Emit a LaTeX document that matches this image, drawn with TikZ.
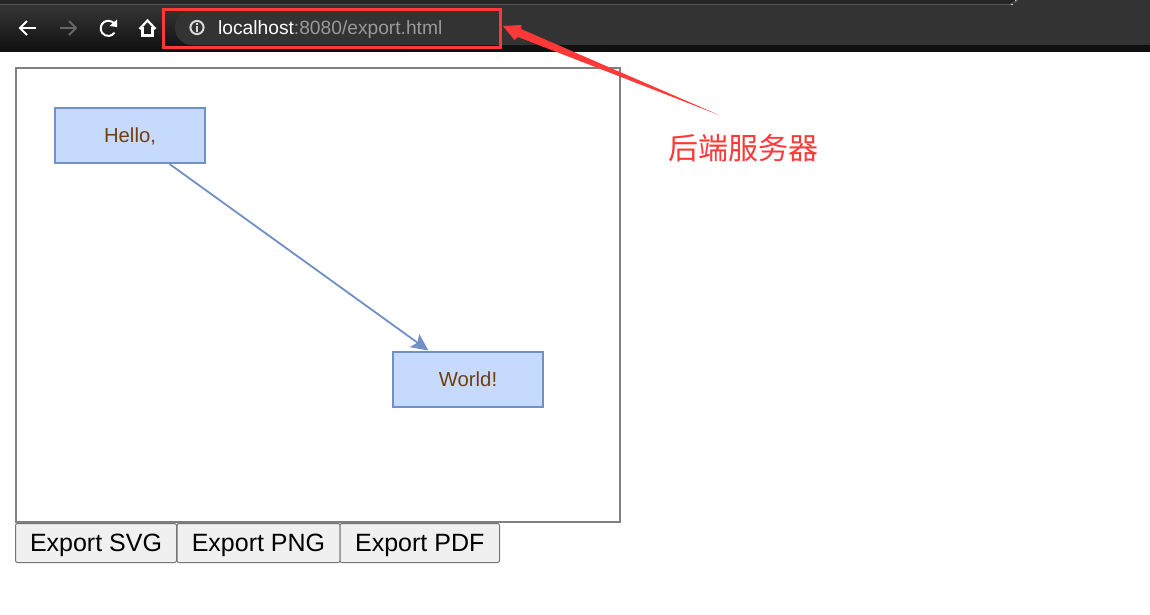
\documentclass[tikz,border=0pt]{standalone}
\usepackage{fontspec}
\setmainfont{Liberation Sans}
\newfontfamily\cjkfont{Noto Sans CJK SC}
\usetikzlibrary{arrows.meta,positioning}
\definecolor{barDark}{HTML}{333333}
\definecolor{barEdge}{HTML}{111111}
\definecolor{markRed}{HTML}{FF3838}
\definecolor{shapeFill}{HTML}{C6DAFE}
\definecolor{shapeLine}{HTML}{7090C6}
\definecolor{shapeText}{HTML}{703F0D}
\tikzset{
  shapebox/.style={draw=shapeLine,fill=shapeFill,line width=2pt,minimum width=149.500pt,minimum height=55.500pt,inner sep=0pt,text=shapeText,text height=15pt,text depth=0pt,font=\fontsize{20.3}{24}\selectfont},
  exportbtn/.style={draw=black!54,fill=black!6,line width=1pt,rounded corners=2pt,minimum height=39pt,inner sep=0pt,text height=18pt,text depth=1pt,font=\fontsize{25}{30}\selectfont,anchor=north west},
  toolicon/.style={line width=2pt,white}
}
\begin{document}
\begin{tikzpicture}[x=1pt,y=-1pt]
\useasboundingbox[fill=white] (0,0) rectangle (1150,614);

% Browser bar
\fill[barDark] (0,5) rectangle (1150,45);
\fill[barEdge] (0,45) rectangle (1150,51.500);
\fill[black!85] (0,0) rectangle (1015,4);
\fill[black!80] (1018,0) -- (1150,0) -- (1150,9) -- (1008,9) -- cycle;
\draw[black!68,line width=1pt] (0,4.500) -- (1010,4.500) -- (1018,0);
\shade[top color=black!80,bottom color=black!94] (0,9) rectangle (400,51.500);
\fill[barDark,rounded corners=17pt] (175,10) rectangle (560,45);
\fill[barDark] (400,9) rectangle (1150,45);

% Toolbar icons
\draw[toolicon] (36,28) -- (21,28);
\draw[toolicon] (27,21) -- (20,28) -- (27,35);
\draw[toolicon,black!60] (60,28) -- (75,28);
\draw[toolicon,black!60] (69,21) -- (76,28) -- (69,35);
\draw[toolicon] (114.500,24) arc[start angle=35,end angle=325,radius=7.6pt];
\fill[white] (117,19.500) -- (117,27) -- (109.500,26) -- cycle;
\draw[white,line width=2.2pt,line join=miter] (139.500,29) -- (147.500,20.500) -- (155.500,29);
\draw[white,line width=2.2pt] (142.500,27) -- (142.500,35.500) -- (152.500,35.500) -- (152.500,27);

% Address
\draw[white!85!black,line width=2pt] (197,27.500) circle[radius=6.6pt];
\fill[white!85!black] (195.800,26) rectangle (198.200,32);
\fill[white!85!black] (195.800,22.800) rectangle (198.200,25);
\node[anchor=west,inner sep=0pt,font=\fontsize{19.2}{22}\selectfont] (address) at (218,29.500)
  {\textcolor{white}{localhost}\textcolor{black!40}{:8080/export.html}};
\node[draw=markRed,line width=3pt,minimum width=337pt,minimum height=38pt,inner sep=0pt] (addressmark) at (332,28) {};

% Canvas
\node[draw=black!50,line width=2pt,minimum width=604pt,minimum height=454pt,inner sep=0pt] (canvas) at (318,295) {};
\node[shapebox] (hello) at (130,135.300) {Hello,};
\node[shapebox] (world) at (468,379.300) {World!};
\draw[-{Stealth[length=17pt,width=16pt,inset=3.500pt]},shapeLine,line width=1.8pt] (hello.-36) -- (world.144);

% Buttons
\node[exportbtn,minimum width=161pt] (svgbtn) at (15,523) {Export SVG};
\node[exportbtn,minimum width=163pt] (pngbtn) at (176.500,523) {Export PNG};
\node[exportbtn,minimum width=159.500pt] (pdfbtn) at (339.500,523) {Export PDF};

% Red note
\node[text=markRed,inner sep=0pt,font=\fontsize{30}{36}\cjkfont] (server) at (743,148) {后端服务器};
\coordinate (markend) at (719,115);
\coordinate (marktip) at (503,26);
\fill[markRed] (markend) -- (518,37) -- (514.500,40) -- (marktip) -- (521.500,25) -- (521,29) -- cycle;
\end{tikzpicture}
\end{document}
